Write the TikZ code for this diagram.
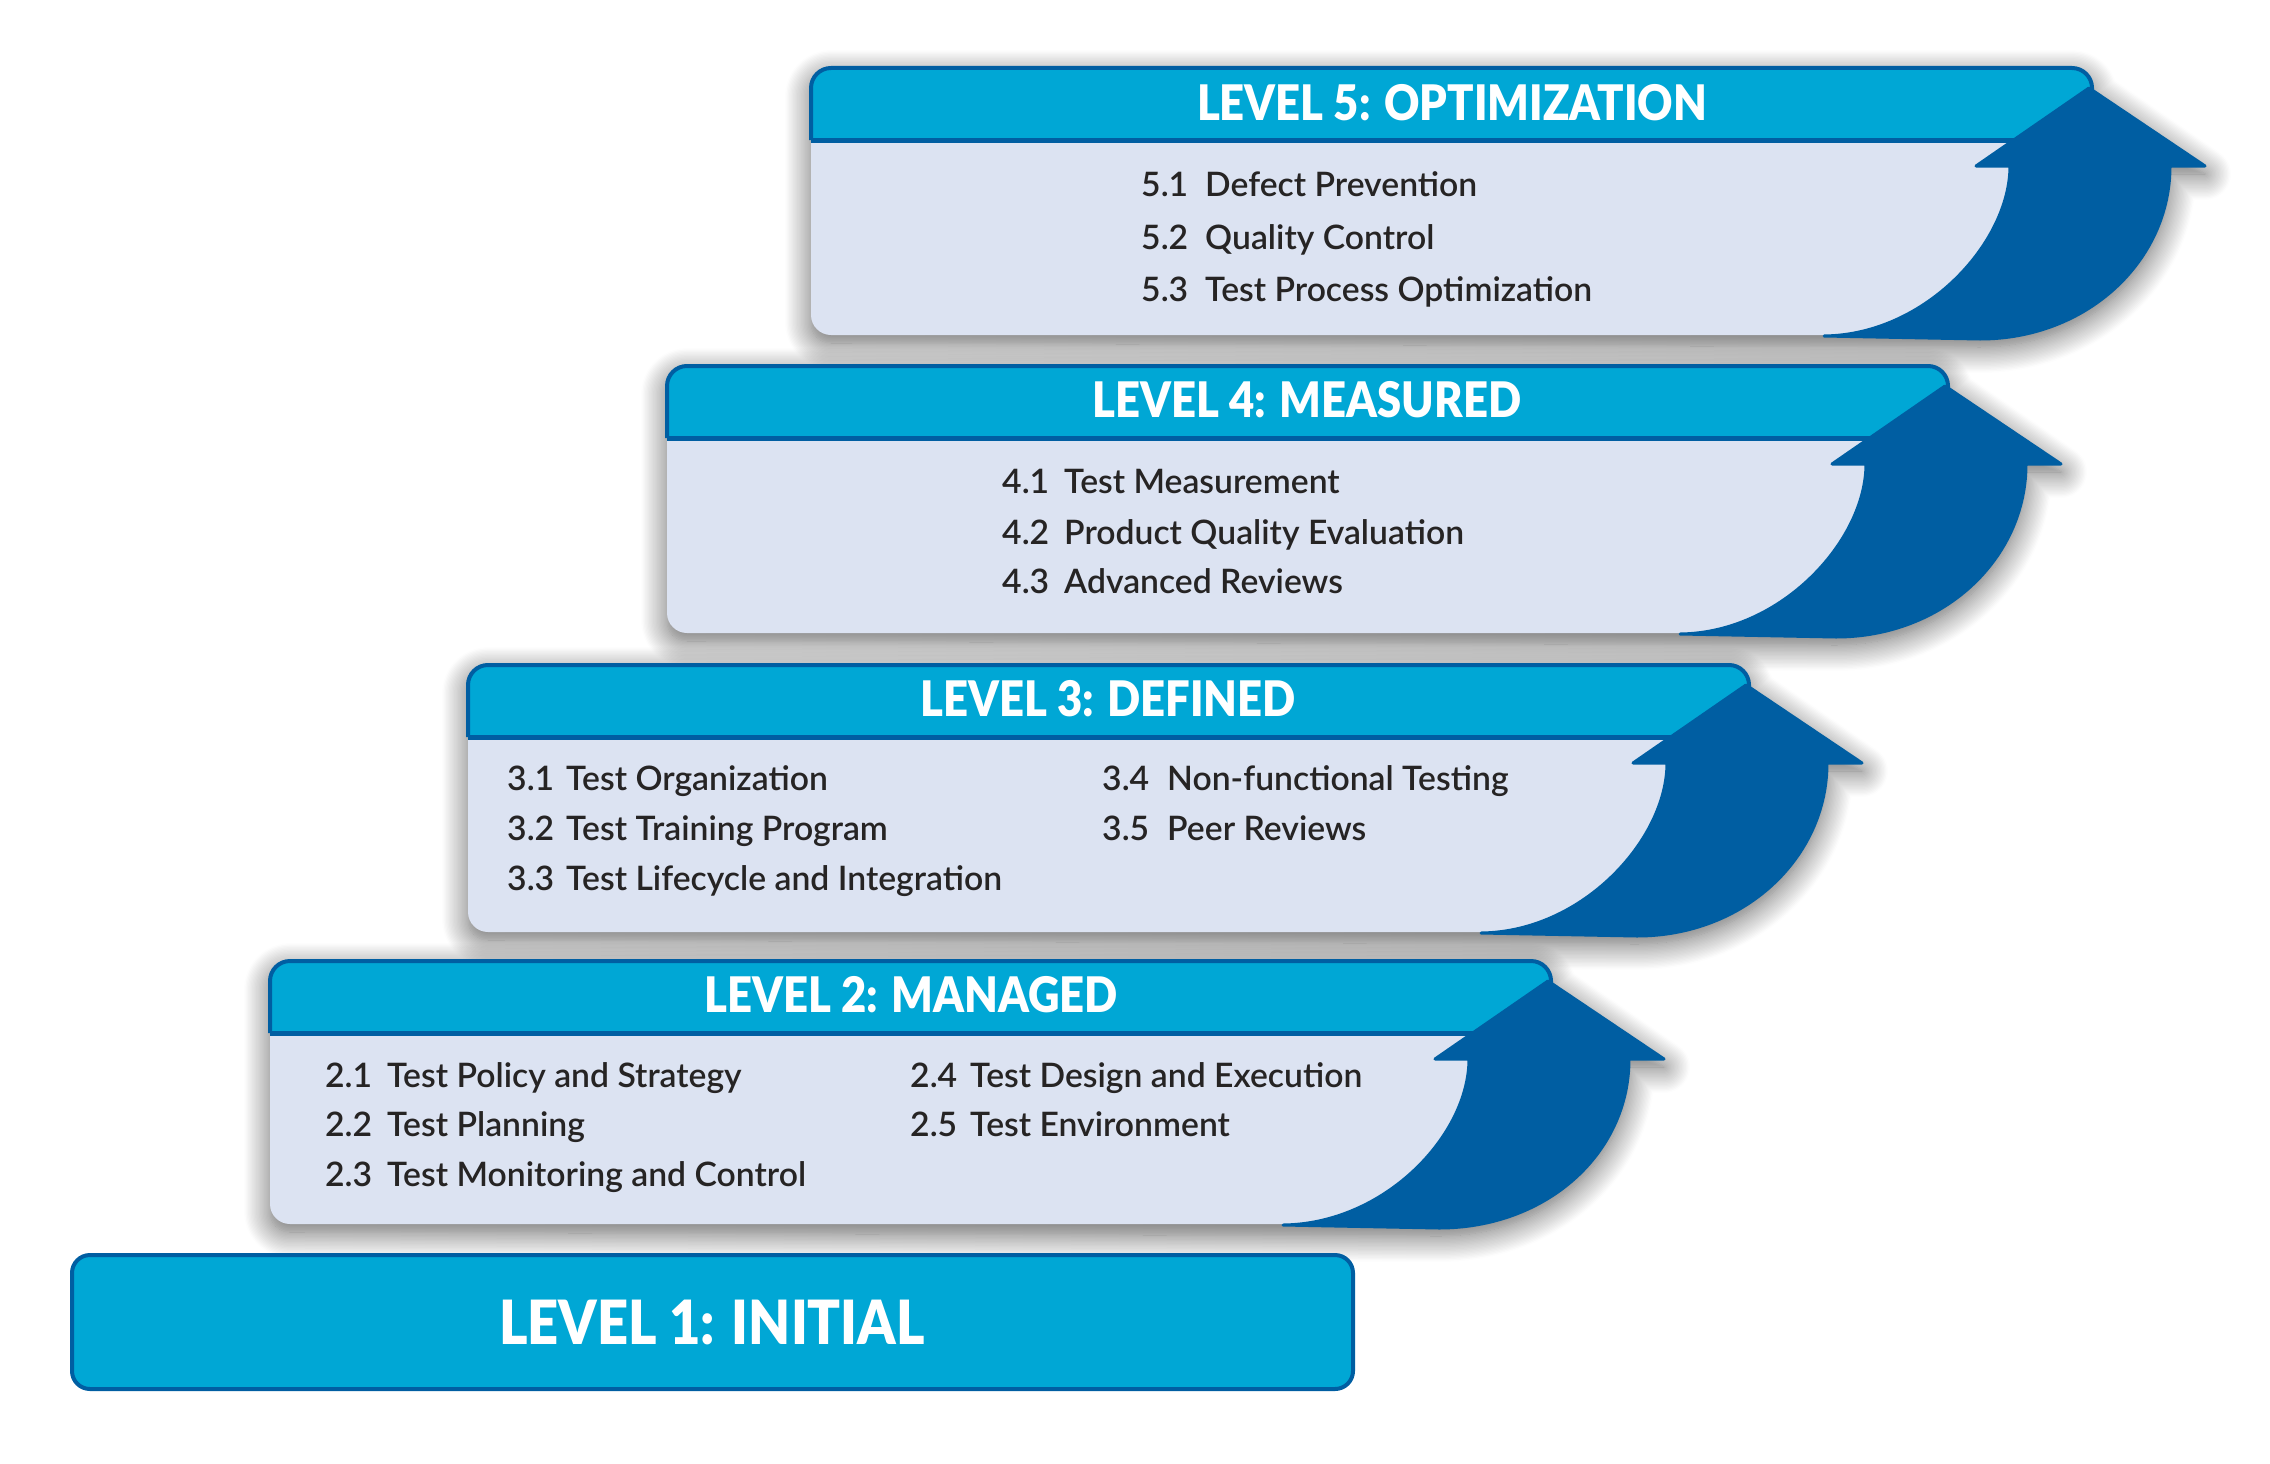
\documentclass[tikz,border=0pt]{standalone}
\usepackage{fontspec}
\setmainfont{Lato}
\newfontfamily\headfont{Lato Black}[FakeStretch=0.89]
\newfontfamily\itemfont{Lato Semibold}
\usetikzlibrary{shadows.blur}
\definecolor{hdcyan}{RGB}{0,167,213}
\definecolor{dkblue}{RGB}{0,94,162}
\definecolor{bodyblue}{RGB}{220,227,242}
\definecolor{itemgray}{RGB}{38,36,36}
\tikzstyle{drop} = [blur shadow={shadow xshift=0pt, shadow yshift=-8pt, shadow blur radius=26pt, shadow blur steps=20, shadow opacity=62}]
\tikzstyle{body} = [fill=bodyblue, rounded corners=20pt]
\tikzstyle{head} = [fill=hdcyan]
\tikzstyle{rim} = [draw=dkblue, line width=4pt]
\tikzstyle{upar} = [fill=dkblue, draw=dkblue, line width=3pt, line join=round]
\tikzstyle{title} = [anchor=base, text=white, inner sep=0pt, font=\headfont\fontsize{49}{56}\selectfont]
\tikzstyle{item} = [anchor=base west, text=itemgray, inner sep=0pt, font=\itemfont\fontsize{33.7}{40}\selectfont]

% one step of the staircase: #1 left, #2 top, #3 bottom
\newcommand{\stairstep}[3]{%
  \pgfmathsetmacro{\rx}{#1+1281}
  \pgfmathsetmacro{\hy}{#2+72}
  \pgfmathsetmacro{\wy}{#2+98}
  \path[drop] (#1,#3-20) -- (#1,#2+20) arc[start angle=180,end angle=270,radius=20]
    -- (\rx-20,#2) arc[start angle=270,end angle=360,radius=20]
    -- (\rx+113,\wy) -- (\rx+78,\wy) .. controls (\rx+78,\wy+95) and (\rx-5,#3+4) .. (\rx-112,#3+4)
    -- (#1+20,#3) arc[start angle=90,end angle=180,radius=20] -- cycle;
  \path[body] (#1,#2+30) rectangle (\rx-82,#3);
  \path[head] (#1,\hy) -- (#1,#2+20) arc[start angle=180,end angle=270,radius=20]
    -- (\rx-20,#2) arc[start angle=270,end angle=360,radius=20] -- (\rx,\hy) -- cycle;
  \path[rim] (#1,\hy) -- (#1,#2+20) arc[start angle=180,end angle=270,radius=20]
    -- (\rx-20,#2) arc[start angle=270,end angle=360,radius=20] -- (\rx,\hy);
  \path[rim, line width=5pt] (#1,\hy) -- (\rx,\hy);
  \path[upar] (\rx-82,\wy) -- (\rx-116,\wy) -- (\rx-3,#2+20) -- (\rx+113,\wy) -- (\rx+78,\wy)
    .. controls (\rx+78,\wy+95) and (\rx-5,#3+4) .. (\rx-112,#3+4) -- (\rx-268,#3+1)
    .. controls (\rx-166,#3) and (\rx-82,\wy+76) .. (\rx-82,\wy) -- cycle;
}

\begin{document}
\begin{tikzpicture}[x=1pt, y=-1pt]
\useasboundingbox (0,0) rectangle (2270,1464);

% LEVEL 5 =============================
\stairstep{811}{68}{335}
\node[title] (t5) at (1452,120) {LEVEL 5: OPTIMIZATION};
\node[item] (n51) at (1141,196) {5.1};
\node[item] (s51) at (1205,196) {Defect Prevention};
\node[item] (n52) at (1141,249) {5.2};
\node[item] (s52) at (1205,249) {Quality Control};
\node[item] (n53) at (1141,301) {5.3};
\node[item] (s53) at (1205,301) {Test Process Optimization};

% LEVEL 4 =============================
\stairstep{667}{366}{633}
\node[title] (t4) at (1307,417) {LEVEL 4: MEASURED};
\node[item] (n41) at (1002,493) {4.1};
\node[item] (s41) at (1064,493) {Test Measurement};
\node[item] (n42) at (1002,544) {4.2};
\node[item] (s42) at (1064,544) {Product Quality Evaluation};
\node[item] (n43) at (1002,593) {4.3};
\node[item] (s43) at (1064,593) {Advanced Reviews};

% LEVEL 3 =============================
\stairstep{468}{665}{932}
\node[title] (t3) at (1108,716) {LEVEL 3: DEFINED};
\node[item] (n31) at (507,790) {3.1};
\node[item] (s31) at (566,790) {Test Organization};
\node[item] (n32) at (507,840) {3.2};
\node[item] (s32) at (566,840) {Test Training Program};
\node[item] (n33) at (507,890) {3.3};
\node[item] (s33) at (566,890) {Test Lifecycle and Integration};
\node[item] (n34) at (1102,790) {3.4};
\node[item] (s34) at (1167,790) {Non-functional Testing};
\node[item] (n35) at (1102,840) {3.5};
\node[item] (s35) at (1167,840) {Peer Reviews};

% LEVEL 2 =============================
\stairstep{270}{961}{1224}
\node[title] (t2) at (911,1012) {LEVEL 2: MANAGED};
\node[item] (n21) at (325,1087) {2.1};
\node[item] (s21) at (387,1087) {Test Policy and Strategy};
\node[item] (n22) at (325,1136) {2.2};
\node[item] (s22) at (387,1136) {Test Planning};
\node[item] (n23) at (325,1186) {2.3};
\node[item] (s23) at (387,1186) {Test Monitoring and Control};
\node[item] (n24) at (910,1087) {2.4};
\node[item] (s24) at (970,1087) {Test Design and Execution};
\node[item] (n25) at (910,1136) {2.5};
\node[item] (s25) at (970,1136) {Test Environment};

% LEVEL 1 =============================
\path[head, rim, rounded corners=18pt] (72,1255) rectangle (1353,1389);
\node[title, font=\headfont\fontsize{61}{70}\selectfont] (t1) at (712,1344) {LEVEL 1: INITIAL};

\end{tikzpicture}
\end{document}
